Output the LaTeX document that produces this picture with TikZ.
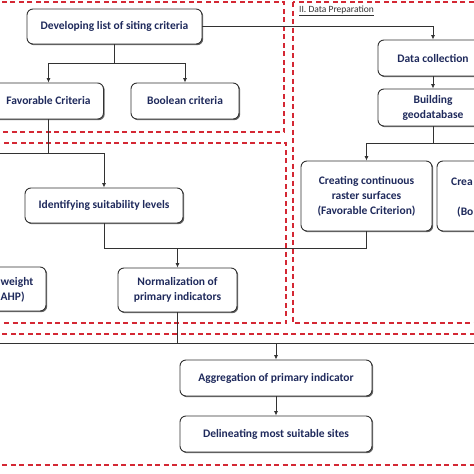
\documentclass[tikz,border=0pt]{standalone}
\usepackage{fontspec}
\setmainfont{Carlito}
\usetikzlibrary{arrows.meta,shadows,calc}
\definecolor{navy}{RGB}{31,42,92}
\definecolor{dred}{RGB}{212,40,52}
\definecolor{edge}{RGB}{50,50,50}
\begin{document}
\begin{tikzpicture}[x=1pt,y=-1pt,
  box/.style={draw=edge, line width=0.9pt, rounded corners=6pt, fill=white, align=center,
    font=\bfseries\fontsize{11.5}{15}\selectfont, text=navy, inner sep=0pt,
    drop shadow={shadow xshift=1.2pt, shadow yshift=-1.2pt, opacity=0.6, fill=black}},
  conn/.style={draw=edge, line width=0.8pt},
  arr/.style={conn, -{Latex[length=4.5pt,width=4pt]}},
  zone/.style={draw=dred, line width=1.3pt, dash pattern=on 5pt off 3.5pt},
  frag/.style={font=\bfseries\fontsize{11.5}{15}\selectfont, text=navy, inner sep=0pt}
]
\useasboundingbox (0,0) rectangle (474,474);
\fill[white] (0,0) rectangle (474,474);
\clip (0,0) rectangle (474,474);

% dashed zones
\draw[zone] (-20,2) rectangle (284,132);
\draw[zone] (-20,143) rectangle (286,323);
\draw[zone] (293,2) rectangle (500,323);
\draw[zone] (-20,334) rectangle (500,465);

\node[anchor=west, font=\fontsize{9.5}{10}\selectfont, text=black!80, inner sep=0pt] (dp) at (299,11) {\underline{II. Data Preparation}};

% boxes
\node[box, minimum width=175pt, minimum height=35pt] (dev) at (114.5,26.5) {Developing list of siting criteria};
\node[box, minimum width=110pt, minimum height=36pt] (fav) at (48.5,101) {Favorable Criteria};
\node[box, minimum width=108pt, minimum height=36pt] (bool) at (185,101) {Boolean criteria};
\node[box, minimum width=158pt, minimum height=35pt] (ident) at (104,205.5) {Identifying suitability levels};
\node[box, minimum width=112pt, minimum height=44pt] (wbox) at (-10,289) {};
\node[frag, anchor=west] (w1) at (0.5,282) {weight};
\node[frag, anchor=west] (w2) at (0.5,297) {AHP)};
\node[box, minimum width=119pt, minimum height=44pt] (norm) at (177.5,290) {Normalization of\\primary indicators};
\node[box, minimum width=110pt, minimum height=36pt] (dc) at (433,58) {Data collection};
\node[box, minimum width=110pt, minimum height=37pt] (geo) at (433,107.5) {Building\\geodatabase};
\node[box, minimum width=131pt, minimum height=70pt] (cont) at (366.5,196) {Creating continuous\\raster surfaces\\(Favorable Criterion)};
\node[box, minimum width=132pt, minimum height=70pt] (boolr) at (503,196) {};
\node[frag, anchor=west] (b1) at (451,182) {Crea};
\node[frag, anchor=west] (b2) at (457,212) {(Bo};
\node[box, minimum width=192pt, minimum height=36pt] (agg) at (276,378) {Aggregation of primary indicator};
\node[box, minimum width=192pt, minimum height=36pt] (del) at (276,434) {Delineating most suitable sites};

% connectors
\draw[conn] (dev.south) -- ++(0,18.5) coordinate (j0);
\draw[arr] (j0) -| (fav.north);
\draw[arr] (j0) -| (bool.north);
\draw[arr] (dev.east) -| (dc.north);
\draw[arr] (dc.south) -- (geo.north);
\draw[conn] (geo.south) -- ++(0,17) coordinate (j1);
\draw[arr] (j1) -| (cont.north);
\draw[arr] (j1) -| (boolr.north);
\coordinate (lin) at (-20,153);
\draw[conn] (fav.south) -- (fav.south |- lin);
\draw[arr] (lin) -| (ident.north);
\draw[conn] (ident.south) -- ++(0,25) coordinate (j2) -| (cont.south);
\draw[arr] (norm.north |- j2) -- (norm.north);
\coordinate (busL) at (-20,343);
\coordinate (busR) at (494,343);
\draw[conn] (busL) -- (busR);
\draw[conn] (norm.south) -- (norm.south |- busL);
\draw[arr] (agg.north |- busL) -- (agg.north);
\draw[arr] (agg.south) -- (del.north);
\end{tikzpicture}
\end{document}
